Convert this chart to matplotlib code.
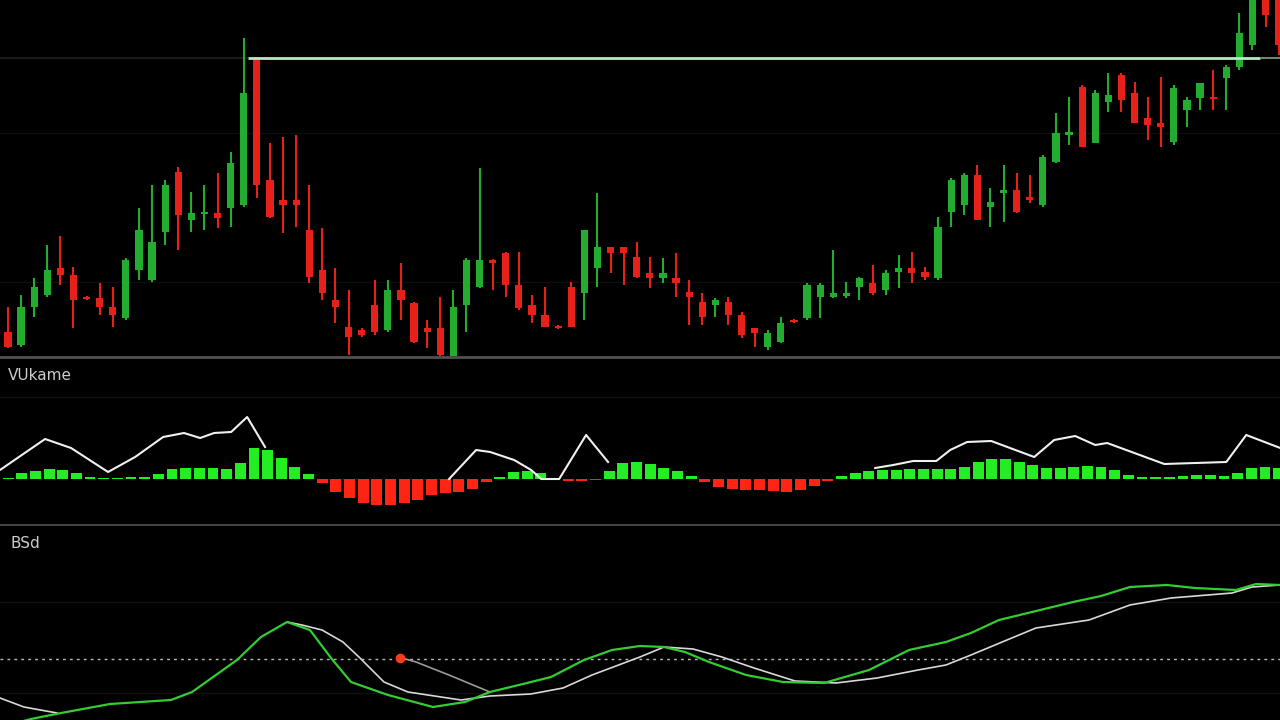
import numpy as np
import matplotlib
matplotlib.use("Agg")
import matplotlib.pyplot as plt

# ---- price candles (open, high, low, close) ----
opens  = [28,15,53,65,92,85,63,62,53,42,90,80,128,188,140,146,147,152,155,303,
          180,160,160,130,90,60,33,30,55,30,70,57,32,32,3,55,73,100,107,75,
          55,45,34,73,67,92,113,113,103,87,82,82,68,58,55,58,45,32,13,18,
          40,42,63,63,64,73,77,70,88,92,88,82,148,155,185,153,167,170,163,155,
          198,225,273,217,258,285,267,242,237,218,250,262,263,282,293,315,375,370]
highs  = [53,65,82,115,124,93,64,77,73,102,152,175,180,193,168,175,187,208,322,303,
          217,223,225,175,132,92,70,32,80,80,97,58,40,63,70,102,192,101,108,108,
          65,73,35,78,130,167,113,113,118,103,102,107,80,67,62,63,48,32,30,43,
          41,77,77,110,78,83,95,90,105,108,93,143,182,187,195,172,195,187,185,205,
          247,263,275,270,287,287,278,263,283,275,263,277,290,295,347,375,380,380]
lows   = [12,13,43,63,75,32,60,45,33,40,80,78,115,110,128,130,132,133,153,162,
          142,127,133,77,60,37,5,23,25,28,40,17,12,3,3,28,72,70,63,50,
          37,33,31,33,40,73,87,75,82,72,77,63,35,35,43,35,22,13,10,17,
          37,40,42,62,62,60,65,65,72,77,80,80,133,145,140,133,138,147,157,153,
          197,215,213,217,248,248,237,220,213,215,233,250,250,250,290,310,333,305]
closes = [13,53,73,90,85,60,61,53,45,100,130,118,175,145,147,148,142,197,267,175,
          143,155,155,83,67,53,23,25,28,70,60,18,28,5,53,100,100,97,75,52,
          45,33,32,33,130,113,107,107,83,82,87,77,63,43,60,45,25,27,27,37,
          38,75,75,67,67,82,67,87,92,87,83,133,180,185,140,158,170,148,160,203,
          227,228,213,267,265,260,237,235,233,272,260,277,261,293,327,365,345,315]
resistance = 302

# ---- volume histogram + white line ----
volume = [1,6,8,10,9,6,2,1.5,1.5,2,2.5,5,10,11,11,11,10,16,31,29,21,12,5,-4,-13,
          -19,-24,-26,-26,-24,-21,-16,-14,-13,-10,-3,2.5,7,8,6,0.5,-2,-2,-1,8,16,17,15,11,
          8,3,-3,-8,-10,-11,-11,-12,-13,-11,-7,-2,3,6,8,9,9,10,10,10,10,12,17,20,20,
          17,14,11,11,12,13,12,9,4,2,2.5,2.5,3,4,4,3,6,11,12,11]
vol_t = [-0.59,2.71,4.61,7.32,9.30,11.35,12.88,14.06,15.08,16.33,17.50,18.81,np.nan,
         32.28,34.26,35.29,37.04,38.29,39.02,40.34,42.31,43.92,np.nan,
         63.47,64.79,66.25,67.94,68.96,70.20,71.96,75.11,76.57,78.11,79.58,80.45,
         84.63,89.17,90.63,93.12]
vol_line = [9,40,31,7,22,42,46,41,46,47,62,32,np.nan,
            0,29,27,19,9,0,0,44,17,np.nan,
            11,14,18,18,29,37,38,22,39,43,34,36,15,17,44,31]

# ---- RSI lines ----
rsi_t = [0.9,1.76,4.05,7.79,12.44,14.05,17.48,19.31,21.30,23.05,24.66,26.18,29.01,32.44,
         34.89,36.79,39.62,41.45,43.97,46.11,48.24,50.08,51.68,53.51,56.34,59.16,62.29,
         65.73,68.78,71.60,73.51,75.65,78.17,81.30,83.44,85.65,88.47,90.61,93.74,95.27,97.10]
rsi = [18.5,20,23,27.5,29.5,33.5,49.5,61,68.5,64.5,50.5,38.5,32,26,
       28.5,33.5,38,41,49.5,54.5,56.5,56,53.5,48.5,42,38.5,38,
       44.5,54.5,58.5,63,69.5,73.5,78.5,81.5,86,87,85.5,84.5,87.5,87]
sig_t = [-0.61,1.22,3.74,np.nan,21.30,22.44,23.97,25.57,26.79,28.70,30.53,34.58,36.79,39.92,
         42.37,44.58,48.24,50.08,52.29,54.50,56.95,60.08,63.21,66.34,69.47,71.60,73.51,
         76.26,78.47,82.52,85.65,88.78,93.44,94.96,97.10]
sig = [30.5,26,23,np.nan,68.5,67,64.5,58.5,51,38.5,33.5,29.5,31.5,32.5,
       35.5,42,51,56,55,51,45.5,39,38,40.5,44.5,47,52,
       59.5,65.5,69.5,77,80.5,83,86,87]
branch_t = [30.08,31.15,33.66,36.79]
branch = [50.5,48.5,42,33.5]

fig = plt.figure(figsize=(12.8, 7.2), dpi=100, facecolor="black")
ax1 = fig.add_axes([0, 364/720, 1, 356/720])
ax2 = fig.add_axes([0, 195/720, 1, 168/720])
ax3 = fig.add_axes([0, 0, 1, 194/720])
for ax in (ax1, ax2, ax3):
    ax.set_facecolor("black")
    ax.set_xticks([])
    ax.set_yticks([])
    for s in ax.spines.values():
        s.set_visible(False)

# candles
n = len(opens)
x = np.arange(n)
o = np.array(opens); c = np.array(closes)
up = c >= o
cols = np.where(up, "#23ad30", "#e8201a")
ax1.vlines(x, lows, highs, colors=cols, lw=1.5, zorder=3)
bottom = np.minimum(o, c)
height = np.maximum(np.abs(c - o), 2)
ax1.bar(x, height, bottom=bottom, width=0.55, color=cols, zorder=4)
for g in (227, 78):
    ax1.axhline(g, color="#0f0f0f", lw=1, zorder=1)
ax1.hlines(resistance, -1, 18.3, color="#1a1a1a", lw=1.5, zorder=2)
ax1.hlines(resistance, 18.3, 95.6, color="#b5ecbf", lw=2, zorder=5)
ax1.hlines(resistance, 95.6, 98, color="#6a8a70", lw=1.5, zorder=5)
ax1.set_xlim(-0.61, 97.1)
ax1.set_ylim(4, 360)

# volume
v = np.array(volume)
vx = np.arange(len(v))
ax2.bar(vx, v, width=0.8, color=np.where(v >= 0, "#22ee22", "#ff2414"), zorder=3)
ax2.plot(vol_t, vol_line, color="#f0f0f0", lw=1.5, zorder=4)
ax2.axhline(82, color="#101010", lw=1, zorder=1)
ax2.set_xlim(-0.59, 93.1)
ax2.set_ylim(-46, 122)
ax2.text(8/1280, 1 - 18/168, "VUkame", transform=ax2.transAxes, color="#cccccc",
         fontsize=11, va="center", ha="left")

# RSI
ax3.axhline(78.5, color="#101010", lw=1, zorder=1)
ax3.axhline(33, color="#101010", lw=1, zorder=1)
ax3.axhline(50, color="#bbbbbb", lw=1, ls=(0, (2, 3)), zorder=2)
ax3.plot(sig_t, sig, color="#d8d8d8", lw=1.2, zorder=3)
ax3.plot(branch_t, branch, color="#9a9a9a", lw=1.2, zorder=3)
ax3.plot(rsi_t, rsi, color="#33cc33", lw=1.6, zorder=4)
ax3.plot([29.9], [50.5], marker="o", ms=6, color="#ff3a1a", zorder=5)
ax3.set_xlim(-0.61, 97.1)
ax3.set_ylim(19.5, 116.5)
ax3.text(10/1280, 1 - 18/194, "BSd", transform=ax3.transAxes, color="#cccccc",
         fontsize=11, va="center", ha="left")

# panel separators
fig.add_artist(plt.Line2D([0, 1], [1 - 357/720] * 2, color="#505050", lw=2))
fig.add_artist(plt.Line2D([0, 1], [1 - 525/720] * 2, color="#444444", lw=1.5))

fig.savefig("out.png", dpi=100, facecolor="black")
